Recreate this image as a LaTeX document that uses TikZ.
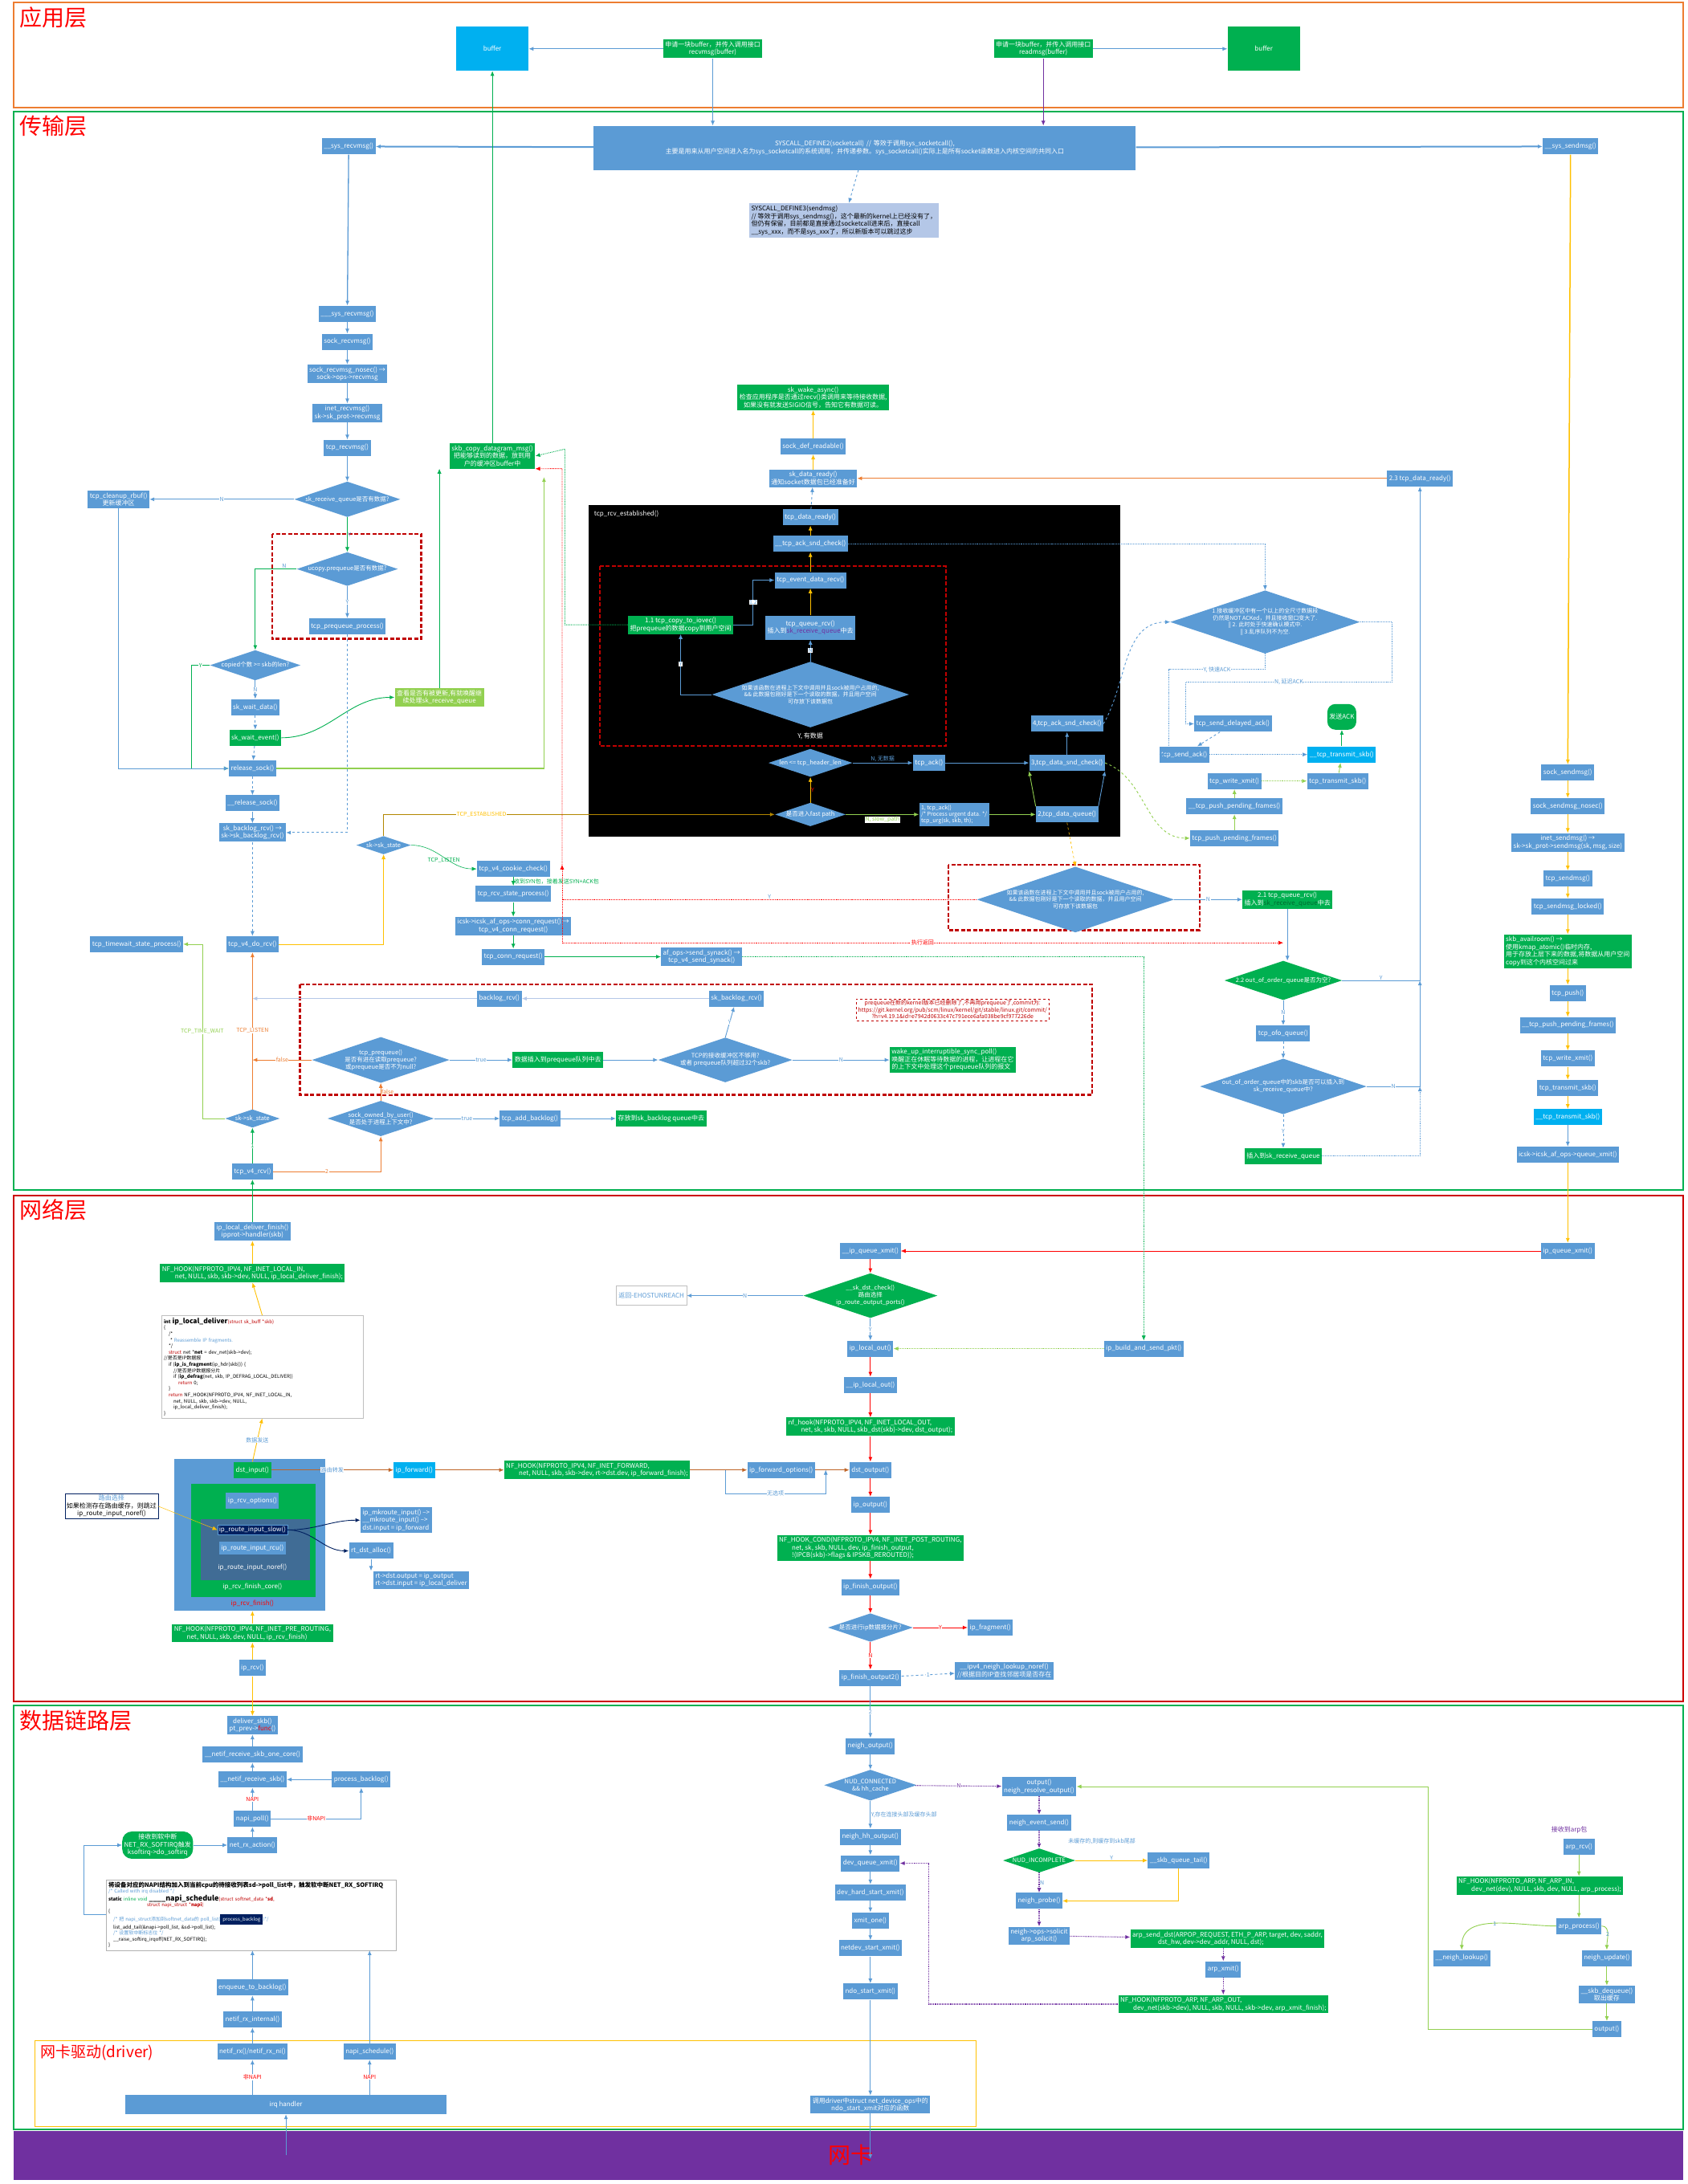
\documentclass[tikz,border=0pt]{standalone}
\usepackage{fontspec}
\setmainfont{Noto Sans CJK SC}
\usetikzlibrary{arrows.meta,shapes.geometric,positioning}
\definecolor{bl}{HTML}{5B9BD5}
\definecolor{gr}{HTML}{00B050}
\definecolor{cy}{HTML}{00B0F0}
\definecolor{lg}{HTML}{92D050}
\definecolor{yl}{HTML}{FFC000}
\definecolor{pu}{HTML}{7030A0}
\definecolor{dr}{HTML}{C00000}
\definecolor{or}{HTML}{ED7D31}
\definecolor{lb}{HTML}{B4C7E7}
\definecolor{nv}{HTML}{002060}
\tikzset{
 every node/.style={font=\fontsize{8}{9.5}\selectfont, align=center},
 b/.style={fill=bl, text=white, inner sep=2.5pt, minimum height=20pt},
 g/.style={fill=gr, text=white, inner sep=2.5pt, minimum height=20pt},
 c/.style={fill=cy, text=white, inner sep=2.5pt, minimum height=20pt},
 d/.style={diamond, aspect=3, fill=bl, text=white, inner sep=0.5pt, font=\fontsize{7.5}{9}\selectfont},
 gd/.style={diamond, aspect=3, fill=gr, text=white, inner sep=0.5pt, font=\fontsize{7.5}{9}\selectfont},
 a/.style={-{Latex[length=6pt,width=5pt]}, bl, line width=0.9pt},
 ay/.style={a, yl},
 ar/.style={a, red},
 ag/.style={a, gr},
 alg/.style={a, lg},
 ap/.style={a, pu, densely dotted, line width=1.1pt},
 ao/.style={a, or},
 lay/.style={line width=2pt},
 lbl/.style={font=\fontsize{7}{8}\selectfont, fill=white, inner sep=0.5pt},
 lblb/.style={font=\fontsize{7}{8}\selectfont, inner sep=0.5pt},
 title/.style={font=\fontsize{28}{30}\selectfont, text=red, anchor=north west},
 rdash/.style={dr, line width=2.2pt, dash pattern=on 5pt off 2.5pt},
}
\begin{document}
\begin{tikzpicture}[x=1.7372pt,y=-1.7372pt]
\useasboundingbox (0,0) rectangle (1210,1566);
\fill[white] (0,0) rectangle (1210,1566);
% layers
\draw[lay, or] (10,2) rectangle (1207,77);
\draw[lay, gr] (10,80) rectangle (1207,853);
\draw[lay, red!80!black] (10,857) rectangle (1207,1220);
\draw[lay, gr] (10,1223) rectangle (1207,1527);
\fill[pu] (10,1528) rectangle (1207,1563);
\draw[yl, line width=1pt] (25,1463) rectangle (700,1525);
\node[title] (t1) at (12,3) {应用层};
\node[title] (t2) at (12,81) {传输层};
\node[title] (t3) at (12,858) {网络层};
\node[title] (t4) at (12,1224) {数据链路层};
\node[title, font=\fontsize{19}{21}\selectfont] (t5) at (27,1464) {网卡驱动(driver)};
\node[font=\fontsize{28}{30}\selectfont, text=red] (t6) at (610,1545) {网卡};

% ---------- app layer
\node[c, minimum width=90pt, minimum height=55pt] (buf1) at (353,35) {buffer};
\node[g] (req1) at (511,35) {申请一块buffer，并传入调用接口\\recvmsg(buffer)};
\node[g] (req2) at (748,35) {申请一块buffer，并传入调用接口\\readmsg(buffer)};
\node[g, minimum width=90pt, minimum height=55pt] (buf2) at (906,35) {buffer};
\draw[a] (req1) -- (buf1);
\draw[a] (req2) -- (buf2);

% ---------- transport
\node[b, text width=670pt, minimum height=55pt] (sys) at (620,106) {SYSCALL\_DEFINE2(socketcall) // 等效于调用sys\_socketcall(),\\主要是用来从用户空间进入名为sys\_socketcall的系统调用，并传递参数。sys\_socketcall()实际上是所有socket函数进入内核空间的共同入口};
\draw[a] (req1.south) -- (req1.south |- sys.north);
\draw[a, pu] (req2.south) -- (req2.south |- sys.north);
\node[fill=lb, text=black, align=left, inner sep=3pt] (sys2) at (605,158) {SYSCALL\_DEFINE3(sendmsg)\\// 等效于调用sys\_sendmsg()，这个最新的kernel上已经没有了，\\但仍有保留，目前都是直接通过socketcall进来后，直接call\\\_\_sys\_xxx，而不是sys\_xxx了，所以新版本可以跳过这步};
\draw[a, dashed] (sys) -- (sys2);
\node[b] (srm1) at (250,105) {\_\_sys\_recvmsg()};
\node[b] (ssm) at (1126,105) {\_\_sys\_sendmsg()};
\draw[a, line width=2pt] (sys) -- (srm1);
\draw[a, line width=2pt] (sys) -- (ssm);
\node[b] (srm2) at (249,225) {\_\_\_sys\_recvmsg()};
\node[b] (sockr) at (249,245) {sock\_recvmsg()};
\node[b] (sockrn) at (249,268) {sock\_recvmsg\_nosec() →\\sock->ops->recvmsg};
\node[b] (inetr) at (249,296) {inet\_recvmsg()\\sk->sk\_prot->recvmsg};
\node[b] (tcpr) at (249,321) {tcp\_recvmsg()};
\node[d] (drq) at (249,358) {sk\_receive\_queue是否有数据?};
\node[b] (clean) at (85,358) {tcp\_cleanup\_rbuf()\\更新缓冲区};
\draw[a, line width=1.3pt] (srm1) -- (srm2);
\draw[a] (srm2) -- (sockr);
\draw[a] (sockr) -- (sockrn);
\draw[a] (sockrn) -- (inetr);
\draw[a] (inetr) -- (tcpr);
\draw[a] (tcpr) -- (drq);
\draw[a] (drq) -- node[lbl]{N} (clean);
\draw[rdash] (195,383) rectangle (302,458);
\node[d] (ducopy) at (249,408) {ucopy.prequeue是否有数据?};
\node[b] (pqp) at (249,449) {tcp\_prequeue\_process()};
\draw[ag] (drq) -- node[lblb, right, text=bl]{Y} (ducopy);
\draw[a] (ducopy) -- node[lbl]{Y} (pqp);
\node[d] (dcopied) at (183,477) {copied个数 >= skb的len?};
\draw[ag] (ducopy.west) -- node[lblb, above, text=bl, pos=0.3]{N} (183,408) -- (dcopied.north);
\node[b] (swd) at (183,507) {sk\_wait\_data()};
\node[g] (swe) at (183,529) {sk\_wait\_event()};
\node[fill=lg, text=white, inner sep=2.5pt] (note1) at (315,500) {查看是否有被更新,有就唤醒继\\续处理sk\_receive\_queue};
\node[b] (rel) at (181,551) {release\_sock()};
\node[b] (rel2) at (181,576) {\_\_release\_sock()};
\node[b] (sbr) at (181,597) {sk\_backlog\_rcv() →\\sk->sk\_backlog\_rcv()};
\draw[a] (dcopied) -- node[lbl]{N} (swd);
\draw[a, dashed] (swd) -- (swe);
\draw[a, dashed] (swe) -- (rel);
\draw[ag] (swe.east) to[out=0, in=180] (note1.west);
\draw[ag] (dcopied.west) -- node[lbl]{Y} (137,477) -- (137,551) -- (rel.west);
\draw[a] (clean.south) -- (85,551) -- (rel.west);
\draw[a, dashed] (rel) -- (rel2);
\draw[a] (rel2) -- (sbr);
\draw[a, dashed] (pqp.south) -- (249,597) -- (sbr.east);
\node[g] (skbc) at (353,327) {skb\_copy\_datagram\_msg()\\把能够读到的数据，放到用\\户的缓冲区buffer中};
\draw[ag, line width=0.6pt] (skbc.north) -- (buf1.south);
\draw[ag, line width=0.6pt] (note1.north) -- (note1.north |- skbc.south);
\draw[ag, line width=1.2pt, lg] (rel.east) -- (390,551) -- (390,342);
\node[b] (tdr) at (181,677) {tcp\_v4\_do\_rcv()};
\node[b] (tw) at (98,677) {tcp\_timewait\_state\_process()};
\draw[a, dashed] (sbr) -- (tdr);
\node[d] (dst1) at (275,606) {sk->sk\_state};
\draw[ay, line width=0.6pt] (tdr.east) -- (275,677) -- (dst1.south);
\node[b] (cook) at (368,623) {tcp\_v4\_cookie\_check()};
\node[b] (rsp) at (368,641) {tcp\_rcv\_state\_process()};
\node[b] (cr) at (368,664) {icsk->icsk\_af\_ops->conn\_request() →\\tcp\_v4\_conn\_request()};
\node[b] (tcr) at (368,686) {tcp\_conn\_request()};
\node[b] (ssyn) at (503,686) {af\_ops->send\_synack() →\\tcp\_v4\_send\_synack()};
\draw[ag, line width=0.6pt] (dst1.east) to[out=0,in=180] node[lblb, text=gr, below]{TCP\_LISTEN} (cook.west);
\draw[ag] (cook) -- node[lblb, right, text=gr]{收到SYN包，接着发送SYN+ACK包} (rsp);
\draw[ag] (rsp) -- (cr);
\draw[ag] (cr) -- (tcr);
\draw[ag] (tcr) -- (ssyn);
% prequeue region
\draw[rdash] (215,706) rectangle (783,785);
\node[b] (blr) at (358,716) {backlog\_rcv()};
\node[b] (sbr2) at (528,716) {sk\_backlog\_rcv()};
\draw[a, lb] (sbr2) -- (blr);
\draw[a, lb] (blr) -- (181,716);
\node[d] (dpq) at (273,760) {tcp\_prequeue()\\是否有进在读取prequeue?\\或prequeue是否不为null?};
\node[g] (inspq) at (400,760) {数据插入到prequeue队列中去};
\node[d] (dbuf) at (520,760) {TCP的接收缓冲区不够用?\\或者 prequeue队列超过32个skb?};
\node[g, align=left] (wake) at (683,760) {wake\_up\_interruptible\_sync\_poll()\\唤醒正在休眠等待数据的进程，让进程在它\\的上下文中处理这个prequeue队列的报文};
\node[draw=dr, dashed, text=dr, fill=white, inner sep=2pt, font=\fontsize{7}{8.5}\selectfont] (cm) at (683,724) {prequeue在新的kernel版本已经删除了,不再用prequeue了,commit为:\\https://git.kernel.org/pub/scm/linux/kernel/git/stable/linux.git/commit/\\?h=v4.19.1\&id=e7942d0633c47c791ece6afa038be9cf977226de};
\draw[a] (dpq) -- node[lbl]{true} (inspq);
\draw[a] (inspq) -- (dbuf);
\draw[a] (dbuf) -- node[lbl]{N} (wake);
\draw[a] (dbuf.north) -- node[lbl]{Y} (sbr2);
\draw[ao] (dpq.west) -- node[lbl]{false} (181,760);
\node[d] (dst2) at (181,802) {sk->sk\_state};
\node[d] (down) at (273,802) {sock\_owned\_by\_user()\\是否处于进程上下文中?};
\node[b] (tab) at (380,802) {tcp\_add\_backlog()};
\node[g] (stb) at (474,802) {存放到sk\_backlog queue中去};
\node[b] (trcv) at (181,840) {tcp\_v4\_rcv()};
\draw[a] (down) -- node[lbl]{true} (tab);
\draw[a] (tab) -- (stb);
\draw[ao] (down.north) -- node[lbl, right]{false} (dpq.south);
\draw[ao] (dst2.north) -- node[lbl]{TCP\_LISTEN} (tdr.south);
\draw[alg, line width=0.6pt] (dst2.west) -- (145,802) -- node[lbl]{TCP\_TIME\_WAIT} (145,677) -- (tw.east);
\draw[ag] (trcv) -- node[lbl]{1} (dst2);
\draw[ao] (trcv.east) -- node[lbl]{2} (273,840) -- (down.south);

% black box
\fill[black] (422,362) rectangle (803,600);
\node[text=white, anchor=north west] (blk) at (424,364) {tcp\_rcv\_established()};
\node[b] (tdrd) at (581,371) {tcp\_data\_ready()};
\node[b] (tasc) at (581,390) {\_\_tcp\_ack\_snd\_check()};
\draw[rdash] (430,406) rectangle (678,535);
\node[b] (tedr) at (581,416) {tcp\_event\_data\_recv()};
\node[g] (cti) at (488,448) {1.1 tcp\_copy\_to\_iovec()\\把prequeue的数据copy到用户空间};
\node[b, minimum height=30pt] (tqr) at (581,450) {tcp\_queue\_rcv()\\插入到\textcolor{pu}{sk\_receive\_queue}中去};
\node[d, font=\fontsize{7}{8.5}\selectfont] (duser) at (581,498) {如果该函数在进程上下文中调用并且sock被用户占用的,\\\&\& 此数据包刚好是下一个读取的数据，并且用户空间\\可存放下该数据包};
\node[text=white] (ylab) at (581,528) {Y, 有数据};
\node[d] (dlen) at (581,547) {len <= tcp\_header\_len};
\node[b] (tack) at (666,547) {tcp\_ack()};
\node[b] (tdsc) at (765,547) {3,tcp\_data\_snd\_check()};
\node[b] (tasc4) at (765,519) {4,tcp\_ack\_snd\_check()};
\node[d] (dfast) at (581,584) {是否进入fast path};
\node[b, align=left, font=\fontsize{7}{8}\selectfont] (turg) at (684,584) {1, tcp\_ack()\\/* Process urgent data. */\\tcp\_urg(sk, skb, th);};
\node[b] (tdq) at (765,584) {2,tcp\_data\_queue()};
\draw[ay] (tasc) -- (tdrd);
\draw[ay] (tedr) -- (tasc);
\draw[ay] (tqr) -- (tedr);
\draw[a] (duser) -- node[lbl]{N} (tqr);
\draw[a] (duser.west) -- (488,498) -- node[lbl]{Y} (cti.south);
\draw[a] (cti.east) -- (540,448) -- node[lbl]{1.2} (540,416) -- (tedr.west);
\draw[ay] (dfast) -- node[lblb, right, text=red]{Y} (dlen);
\draw[a] (dlen) -- node[lblb, above, text=bl]{N, 无数据} (tack);
\draw[a] (tack) -- (tdsc);
\draw[a] (tdsc) -- (tasc4);
\draw[alg] (dfast) -- node[lbl, below=2pt]{N, slow\_path} (turg);
\draw[alg] (turg) -- (tdq);
\draw[alg] (tdq.north west) -- (tdsc.south west);
\draw[a] (tdq.north east) -- (tdsc.south east);
\draw[ay, line width=1.2pt, yl!70!black] (dst1.north) -- (275,584) -- node[lblb, text=yl, fill=white, pos=0.25]{TCP\_ESTABLISHED} (dfast.west);
\draw[ag, densely dotted] (cti.west) -- (405,448) -- (405,322) -- (skbc.east);
\draw[ar, densely dotted] (403,620) -- (403,336) -- (skbc.south east);
% top middle
\node[g] (swa) at (583,285) {sk\_wake\_async()\\检查应用程序是否通过recv()类调用来等待接收数据,\\如果没有就发送SIGIO信号，告知它有数据可读。};
\node[b] (sdr) at (583,320) {sock\_def\_readable()};
\node[b] (skdr) at (583,343) {sk\_data\_ready()\\通知socket数据包已经准备好};
\node[b] (t23) at (1018,343) {2.3 tcp\_data\_ready()};
\draw[ay] (sdr) -- (swa);
\draw[ay] (skdr) -- (sdr);
\draw[a, dashed] (tdrd) -- (skdr);
\draw[ao] (t23) -- (skdr);
% right middle
\node[d, font=\fontsize{7}{8.5}\selectfont] (dack) at (907,446) {1.接收缓冲区中有一个以上的全尺寸数据段\\仍然是NOT ACKed，并且接收窗口变大了.\\|| 2. 此时处于快速确认模式中.\\|| 3.乱序队列不为空.};
\draw[a, densely dotted] (tasc.east) -- (907,390) -- (dack.north);
\draw[a, dashed] (tasc4.east) to[out=60,in=180] (dack.west);
\node[b] (tsda) at (884,519) {tcp\_send\_delayed\_ack()};
\node[g, rounded corners=10pt, minimum height=32pt] (fack) at (962,514) {发送ACK};
\node[b] (tsa) at (849,541) {tcp\_send\_ack()};
\node[c] (ttsk) at (962,541) {\_\_tcp\_transmit\_skb()};
\node[b] (twx) at (885,560) {tcp\_write\_xmit()};
\node[b] (tts) at (959,560) {tcp\_transmit\_skb()};
\node[b] (tppf) at (885,578) {\_\_tcp\_push\_pending\_frames()};
\node[b] (tppf2) at (885,601) {tcp\_push\_pending\_frames()};
\draw[a, densely dotted] (dack.south) -- (907,480) -- node[lbl]{Y, 快速ACK} (838,480) -- (838,541) -- (tsa.west);
\draw[a, densely dotted] (dack.east) -- (998,446) -- (998,489) -- node[lbl]{N, 延迟ACK} (850,489) -- (850,519) -- (tsda.west);
\draw[a, dashed] (tsda) -- (tsa);
\draw[a, densely dotted] (tsa) -- (ttsk);
\draw[ag] (ttsk) -- (fack);
\draw[alg] (tts) -- (ttsk);
\draw[alg, densely dotted] (twx) -- (tts);
\draw[alg] (tppf) -- (twx);
\draw[alg] (tppf2) -- (tppf);
\draw[alg, dashed] (tdsc.east) to[out=-20, in=180] (tppf2.west);
% user diamond 2
\draw[rdash] (680,620) rectangle (860,667);
\node[d, font=\fontsize{7}{8.5}\selectfont] (duser2) at (771,645) {如果该函数在进程上下文中调用并且sock被用户占用的,\\\&\& 此数据包刚好是下一个读取的数据，并且用户空间\\可存放下该数据包};
\draw[ay, dashed, line width=0.6pt] (tdq.south) -- (duser2.north);
\node[g] (tq21) at (923,645) {2.1 tcp\_queue\_rcv()\\插入到\textcolor{gr!60!black}{sk\_receive\_queue}中去};
\draw[a] (duser2) -- node[lbl]{N} (tq21);
\draw[ar, densely dotted, line width=0.6pt] (duser2.west) -- node[lblb, above, text=bl]{Y} (403,645) -- (403,620);
\node[gd] (dofo) at (920,703) {2.2 out\_of\_order\_queue是否为空?};
\node[b] (tofo) at (920,741) {tcp\_ofo\_queue()};
\node[d] (dofo2) at (920,779) {out\_of\_order\_queue中的skb是否可以插入到\\sk\_receive\_queue中?};
\node[g] (insrq) at (920,829) {插入到sk\_receive\_queue};
\draw[a] (tq21.south) -- (tq21.south |- dofo.north);
\draw[ar, densely dotted, line width=0.6pt] (403,645) -- (403,676) -- node[lbl]{执行返回} (920,676);
\draw[a] (dofo) -- node[lbl]{N} (tofo);
\draw[a, dashed] (tofo) -- (dofo2);
\draw[a, dashed] (dofo2) -- node[lbl]{Y} (insrq);
\draw[a] (dofo.east) -- node[lblb, above, text=bl]{Y} (1018,703) -- (t23.south);
\draw[a] (dofo2.east) -- node[lbl]{N} (1018,779) -- (1018,703);
\draw[a, densely dotted] (insrq.east) -- (1018,829) -- (1018,779);
% send column
\node[b] (ss1) at (1124,554) {sock\_sendmsg()};
\node[b] (ss2) at (1124,578) {sock\_sendmsg\_nosec()};
\node[b] (ss3) at (1124,604) {inet\_sendmsg() →\\sk->sk\_prot->sendmsg(sk, msg, size)};
\node[b] (ss4) at (1124,630) {tcp\_sendmsg()};
\node[b] (ss5) at (1124,650) {tcp\_sendmsg\_locked()};
\node[g, align=left] (ss6) at (1124,682) {\hfil skb\_availroom() →\hfil\\使用kmap\_atomic()临时内存,\\用于存放上层下来的数据,将数据从用户空间\\copy到这个内核空间过来};
\node[b] (ss7) at (1124,712) {tcp\_push()};
\node[b] (ss8) at (1124,735) {\_\_tcp\_push\_pending\_frames()};
\node[b] (ss9) at (1124,759) {tcp\_write\_xmit()};
\node[b] (ss10) at (1124,780) {tcp\_transmit\_skb()};
\node[c] (ss11) at (1124,801) {\_\_tcp\_transmit\_skb()};
\node[b] (ss12) at (1124,828) {icsk->icsk\_af\_ops->queue\_xmit()};
\draw[ay, line width=1.5pt] (ssm) -- (ss1);
\draw[ay] (ss1) -- (ss2);
\draw[ay] (ss2) -- (ss3);
\draw[ay] (ss3) -- (ss4);
\draw[ay] (ss4) -- (ss5);
\draw[ay] (ss5) -- (ss6);
\draw[ay] (ss6) -- (ss7);
\draw[ay] (ss7) -- (ss8);
\draw[ay] (ss8) -- (ss9);
\draw[ay] (ss9) -- (ss10);
\draw[ay] (ss10) -- (ss11);
\draw[a] (ss11) -- (ss12);

% ---------- network
\node[b] (ildf) at (181,883) {ip\_local\_deliver\_finish()\\ipprot->handler(skb)};
\draw[ag, line width=0.5pt] (ildf.north) -- (trcv.south);
\node[g, align=left] (nfin) at (181,913) {NF\_HOOK(NFPROTO\_IPV4, NF\_INET\_LOCAL\_IN,\\\qquad net, NULL, skb, skb->dev, NULL, ip\_local\_deliver\_finish);};
\node[draw=gray!50, fill=white, align=left, text width=245pt, font=\fontsize{6}{7.6}\selectfont, inner sep=3pt] (code1) at (188,980) {\textbf{int \fontsize{8.5}{9}\selectfont ip\_local\_deliver}\textcolor{dr}{(struct sk\_buff *skb)}\\\{\\\quad /*\\\quad\ * \textcolor{bl}{Reassemble IP fragments.}\\\quad */\\\quad \textcolor{dr}{struct} net *\textbf{net} = dev\_net(skb->dev);\\//是否是IP数据报\\\quad if (\textbf{ip\_is\_fragment}(ip\_hdr(skb))) \{\\\qquad //是否是IP数据报分片\\\qquad if (\textbf{ip\_defrag}(net, skb, IP\_DEFRAG\_LOCAL\_DELIVER))\\\qquad\quad \textcolor{dr}{return} 0;\\\quad \}\\\quad \textcolor{dr}{return} NF\_HOOK(NFPROTO\_IPV4, NF\_INET\_LOCAL\_IN,\\\qquad net, NULL, skb, skb->dev, NULL,\\\qquad ip\_local\_deliver\_finish);\\\}};
\draw[ay] (code1.north) -- (nfin.south);
\draw[ay] (nfin) -- (ildf);
\fill[bl] (125,1046) rectangle (233,1155);
\fill[gr] (137,1064) rectangle (226,1145);
\fill[bl!70!black] (144,1089) rectangle (222,1133);
\node[g] (dinp) at (181,1054) {dst\_input()};
\node[b] (iro) at (181,1076) {ip\_rcv\_options()};
\node[fill=nv, text=white, draw=bl, inner sep=2pt] (iris) at (181,1097) {ip\_route\_input\_slow()};
\node[b, minimum height=16pt] (irir) at (181,1110) {ip\_route\_input\_rcu()};
\node[text=white] (irin) at (181,1124) {ip\_route\_input\_noref()};
\node[text=white] (ircc) at (181,1138) {ip\_rcv\_finish\_core()};
\node[text=red] (irf) at (181,1150) {ip\_rcv\_finish()};
\draw[ay] (dinp.north) -- node[lbl, text=bl]{数据发送} (code1.south);
\node[draw=nv, fill=white, inner sep=2pt] (rnote) at (80,1080) {\textcolor{bl}{路由选择}\\如果检测存在路由缓存，则跳过\\ip\_route\_input\_noref()};
\draw[ay, line width=0.5pt] (rnote.east) -- (iris.west);
\node[c] (ipf) at (297,1054) {ip\_forward()};
\node[g, align=left] (nffw) at (428,1054) {NF\_HOOK(NFPROTO\_IPV4, NF\_INET\_FORWARD,\\\qquad net, NULL, skb, skb->dev, rt->dst.dev, ip\_forward\_finish);};
\draw[a, or!80!black] (dinp) -- node[lbl, text=bl]{路由转发} (ipf);
\draw[a, or!80!black] (ipf) -- (nffw);
\node[b, align=left] (mkr) at (284,1090) {ip\_mkroute\_input() -->\\\_\_mkroute\_input() -->\\dst.input = ip\_forward};
\node[b] (rtda) at (266,1112) {rt\_dst\_alloc()};
\node[b, align=left] (rtout) at (302,1133) {rt->dst.output = ip\_output\\rt->dst.input = ip\_local\_deliver};
\draw[a, nv] (iris.east) to[out=0,in=180] (mkr.west);
\draw[a, nv] (iris.east) to[out=0,in=180] (rtda.west);
\draw[a] (rtda) -- (rtda |- rtout.north);
\node[g, align=left] (nfpre) at (181,1171) {NF\_HOOK(NFPROTO\_IPV4, NF\_INET\_PRE\_ROUTING,\\\qquad net, NULL, skb, dev, NULL, ip\_rcv\_finish)};
\node[b] (iprcv) at (181,1196) {ip\_rcv()};
\draw[ay] (nfpre.north) -- (181,1155);
\draw[ay] (iprcv) -- (nfpre);
% output path
\node[b] (iqx2) at (624,897) {\_\_ip\_queue\_xmit()};
\node[b] (iqx) at (1124,897) {ip\_queue\_xmit()};
\draw[ay] (ss12) -- (iqx);
\draw[ar, line width=0.6pt] (iqx) -- (iqx2);
\node[gd] (ddst) at (624,929) {\_\_sk\_dst\_check()\\路由选择\\ip\_route\_output\_ports()};
\node[draw=gray!50, text=bl, fill=white, minimum height=24pt, inner sep=3pt] (eh) at (467,929) {返回-EHOSTUNREACH};
\node[b] (ilo) at (624,967) {ip\_local\_out()};
\node[b] (ibsp) at (820,967) {ip\_build\_and\_send\_pkt()};
\node[b] (ilo2) at (624,993) {\_\_ip\_local\_out()};
\node[g, align=left] (nflo) at (624,1023) {nf\_hook(NFPROTO\_IPV4, NF\_INET\_LOCAL\_OUT,\\\qquad net, sk, skb, NULL, skb\_dst(skb)->dev,\ dst\_output);};
\node[b] (ifo) at (560,1054) {ip\_forward\_options()};
\node[b] (dout) at (624,1054) {dst\_output()};
\node[b] (iout) at (624,1079) {ip\_output()};
\node[g, align=left] (nfpost) at (624,1110) {NF\_HOOK\_COND(NFPROTO\_IPV4, NF\_INET\_POST\_ROUTING,\\\qquad net, sk, skb, NULL, dev, ip\_finish\_output,\\\qquad !(IPCB(skb)->flags \& IPSKB\_REROUTED));};
\node[b] (ifo1) at (624,1138) {ip\_finish\_output()};
\node[d] (dfrag) at (624,1167) {是否进行ip数据报分片?};
\node[b] (ifrag) at (710,1167) {ip\_fragment()};
\node[b] (ifo2) at (624,1203) {ip\_finish\_output2()};
\node[b] (nlk) at (720,1198) {\_\_ipv4\_neigh\_lookup\_noref()\\//根据目的IP查找邻居项是否存在};
\draw[ar] (iqx2) -- (ddst);
\draw[a] (ddst) -- node[lbl]{N} (eh);
\draw[a] (ddst) -- node[lbl]{Y} (ilo);
\draw[alg, densely dotted] (ibsp) -- (ilo);
\draw[ag, densely dotted, line width=0.5pt] (ssyn.east) -- (820,686) -- (ibsp.north);
\draw[ar] (ilo) -- (ilo2);
\draw[ar] (ilo2) -- (nflo);
\draw[ar] (nflo) -- (dout);
\draw[a, or!80!black] (nffw) -- (ifo);
\draw[a, or!80!black] (ifo) -- (dout);
\draw[a, line width=0.5pt] (520,1054) -- (520,1071) -- node[lbl]{无选项} (592,1071) -- (592,1054);
\draw[ar] (dout) -- (iout);
\draw[ar] (iout) -- (nfpost);
\draw[ar] (nfpost) -- (ifo1);
\draw[ar] (ifo1) -- (dfrag);
\draw[ar] (dfrag) -- node[lbl]{Y} (ifrag);
\draw[ar] (dfrag) -- node[lbl]{N} (ifo2);
\draw[a, dashed] (ifo2) -- node[lbl]{1} (nlk);

% ---------- data link
\node[b] (dskb) at (181,1237) {deliver\_skb()\\pt\_prev->\textcolor{red}{func}()};
\node[b] (nrs1) at (181,1258) {\_\_netif\_receive\_skb\_one\_core()};
\node[b] (nrs) at (181,1276) {\_\_netif\_receive\_skb()};
\node[b] (pbl) at (259,1276) {process\_backlog()};
\node[b] (npoll) at (181,1304) {napi\_poll()};
\node[b] (nra) at (181,1323) {net\_rx\_action()};
\node[g, rounded corners=12pt, minimum height=34pt] (sirq) at (113,1323) {接收到软中断\\NET\_RX\_SOFTIRQ触发\\ksoftirq->do\_softirq};
\node[draw=gray!60, fill=white, align=left, text width=355pt, font=\fontsize{6}{7.4}\selectfont, inner sep=3pt] (code2) at (180,1373) {\textbf{\fontsize{7.5}{9}\selectfont 将设备对应的NAPI结构加入到当前cpu的待接收列表sd->poll\_list中，触发软中断NET\_RX\_SOFTIRQ}\\\textcolor{bl}{/* Called with irq disabled */}\\\textbf{static} \textcolor{gr}{inline void} \textbf{\fontsize{9}{10}\selectfont\_\_\_\_napi\_schedule}\textcolor{dr}{(struct softnet\_data *\textbf{sd},}\\\qquad\qquad\qquad\qquad\textcolor{dr}{struct napi\_struct *\textbf{napi})}\\\{\\\quad\textcolor{bl}{/* 把 napi\_struct添加到softnet\_data的 poll\_list(\colorbox{nv}{\textcolor{white}{process\_backlog}})*/}\\\quad list\_add\_tail(\&napi->poll\_list, \&sd->poll\_list);\\\quad\textcolor{bl}{/* 设置软中断标志位 */}\\\quad \_\_raise\_softirq\_irqoff(NET\_RX\_SOFTIRQ);\\\}};
\node[b] (etb) at (181,1425) {enqueue\_to\_backlog()};
\node[b] (nri) at (181,1448) {netif\_rx\_internal()};
\node[b] (nrx) at (181,1471) {netif\_rx()/netif\_rx\_ni()};
\node[b] (nsch) at (265,1471) {napi\_schedule()};
\node[b, minimum width=400pt, minimum height=24pt] (irq) at (205,1509) {irq handler};
\draw[ay] (iprcv.south) -- (dskb.north);
\draw[a] (nrs1) -- (dskb);
\draw[a] (nrs) -- (nrs1);
\draw[a] (pbl) -- (nrs);
\draw[a] (npoll) -- node[lbl, text=red]{NAPI} (nrs);
\draw[a] (npoll.east) -- node[lbl, text=red]{非NAPI} (259,1304) -- (pbl.south);
\draw[a] (nra) -- (npoll);
\draw[a] (sirq) -- (nra);
\draw[a] (code2.west) -- (60,1373) |- (sirq.west);
\draw[a] (etb) -- (etb |- code2.south);
\draw[a] (nri) -- (etb);
\draw[a] (nrx) -- (nri);
\draw[a] (nsch.north) -- (nsch.north |- code2.south);
\draw[a] (nrx.south |- irq.north) -- node[lbl, text=red]{非NAPI} (nrx.south);
\draw[a] (nsch.south |- irq.north) -- node[lbl, text=red]{NAPI} (nsch.south);
\draw[a] (205,1545) -- (irq.south);
% tx link
\node[b] (no) at (624,1252) {neigh\_output()};
\node[d] (dnud) at (624,1280) {NUD\_CONNECTED\\\&\& hh\_cache};
\node[b] (nro) at (745,1281) {output()\\neigh\_resolve\_output()};
\node[b] (nho) at (624,1317) {neigh\_hh\_output()};
\node[b] (dqx) at (624,1336) {dev\_queue\_xmit()};
\node[b] (dhsx) at (624,1357) {dev\_hard\_start\_xmit()};
\node[b] (xo) at (624,1377) {xmit\_one()};
\node[b] (nsx) at (624,1397) {netdev\_start\_xmit()};
\node[b] (ndo) at (624,1428) {ndo\_start\_xmit()};
\node[b] (drv) at (624,1509) {调用driver中struct net\_device\_ops中的\\ndo\_start\_xmit对应的函数};
\draw[a] (ifo2) -- node[lbl]{2} (no);
\draw[a] (no) -- (dnud);
\draw[ap] (dnud) -- node[lbl]{N} (nro);
\draw[a] (dnud) -- node[lblb, right, text=bl]{Y,存在连接头部及缓存头部} (nho);
\draw[a] (nho) -- (dqx);
\draw[a] (dqx) -- (dhsx);
\draw[a] (dhsx) -- (xo);
\draw[a] (xo) -- (nsx);
\draw[a] (nsx) -- (ndo);
\draw[a] (ndo) -- (drv);
\draw[a] (drv) -- (624,1548);
\node[b] (nes) at (745,1307) {neigh\_event\_send()};
\node[gd] (dinc) at (745,1334) {NUD\_INCOMPLETE};
\node[b] (sqt) at (845,1334) {\_\_skb\_queue\_tail()};
\node[b] (npr) at (745,1363) {neigh\_probe()};
\node[b] (sol) at (745,1388) {neigh->ops->solicit\\arp\_solicit()};
\node[g, align=left] (asd) at (880,1390) {arp\_send\_dst(ARPOP\_REQUEST, ETH\_P\_ARP, target, dev, saddr,\\\qquad\qquad dst\_hw, dev->dev\_addr, NULL, dst);};
\node[b] (axm) at (877,1412) {arp\_xmit()};
\node[g, align=left] (nfao) at (877,1437) {NF\_HOOK(NFPROTO\_ARP, NF\_ARP\_OUT,\\\qquad dev\_net(skb->dev), NULL, skb, NULL, skb->dev, arp\_xmit\_finish);};
\draw[ap] (nro) -- (nes);
\draw[ap] (nes) -- (dinc);
\draw[a, yl] (dinc) -- node[lblb, above, text=bl]{Y} (sqt);
\node[lblb, text=bl] (uncache) at (790,1320) {未缓存的,则缓存到skb尾部};
\draw[a, yl] (sqt.south) -- (845,1363) -- (npr.east);
\draw[ap] (dinc) -- node[lblb, right, text=bl]{N} (npr);
\draw[ap] (npr) -- (sol);
\draw[ap] (sol) -- (asd);
\draw[ap] (asd.south -| axm) -- (axm);
\draw[ap] (axm) -- (nfao);
\draw[ap] (nfao.west) -- (666,1437) -- (666,1336) -- (dqx.east);
% arp rx
\node[text=pu] (arpl) at (1125,1312) {接收到arp包};
\node[b] (arcv) at (1132,1324) {arp\_rcv()};
\node[g, align=left] (nfai) at (1104,1352) {NF\_HOOK(NFPROTO\_ARP, NF\_ARP\_IN,\\\qquad dev\_net(dev), NULL, skb, dev, NULL,\ arp\_process);};
\node[b] (aprc) at (1132,1381) {arp\_process()};
\node[b] (nlu) at (1048,1404) {\_\_neigh\_lookup()};
\node[b] (nup) at (1152,1404) {neigh\_update()};
\node[b] (sdq) at (1152,1430) {\_\_skb\_dequeue()\\取出缓存};
\node[b] (aout) at (1152,1455) {output()};
\draw[alg] (arcv) -- (nfai.north -| arcv);
\draw[alg] (nfai.south -| aprc) -- (aprc);
\draw[alg] (aprc.west) to[out=180,in=90] node[lblb, text=bl]{1} (nlu.north);
\draw[alg] (aprc.east) to[out=0,in=90] node[lblb, text=bl]{2} (nup.north);
\draw[alg] (nup) -- (sdq);
\draw[alg] (sdq) -- (aout);
\draw[alg] (aout.west) -- (1024,1455) -- (1024,1281) -- (nro.east);
\end{tikzpicture}
\end{document}
